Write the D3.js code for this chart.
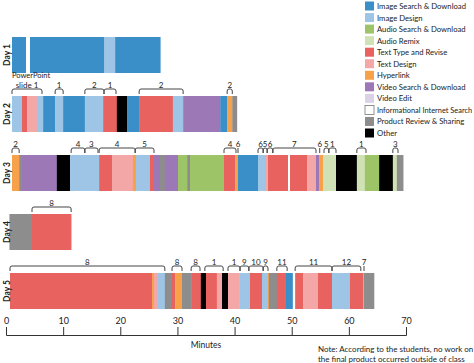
<!DOCTYPE html>
<meta charset="utf-8">
<style>
    body { margin: 0; background: #fff; }
    svg text { font-family: Lato, "Open Sans", sans-serif; fill: #222; }
    .legend text { font-size: 7.7px; }
    .brk path { fill: none; stroke: #444; stroke-width: 1; }
    .brk text { font-size: 8px; text-anchor: middle; }
    .day-label { font-size: 8.5px; font-weight: bold; text-anchor: middle; }
    .axis text { font-size: 9px; font-family: Lato, sans-serif; }
    .axis path, .axis line { stroke: #333; }
</style>
<svg width="474" height="363"></svg>
<script src="https://d3js.org/d3.v7.min.js"></script>
<script>
    var days = ["Day 1", "Day 2", "Day 3", "Day 4", "Day 5"];

    var catKeys = ["isd", "id", "asd", "ar", "ttr", "td", "hl", "vsd", "ve", "iis", "prs", "oth"];
    var catNames = ["Image Search & Download", "Image Design", "Audio Search & Download", "Audio Remix",
        "Text Type and Revise", "Text Design", "Hyperlink", "Video Search & Download", "Video Edit",
        "Informational Internet Search", "Product Review & Sharing", "Other"];
    var catColors = ["#3a8fc8", "#9fc5e6", "#9dc466", "#cfe1b5", "#e8625f", "#f3a8a7", "#f8a14b",
        "#9c78b6", "#dcd2e8", "#ffffff", "#8d8d8d", "#000000"];

    // minutes at which each day starts, then the end minute of each segment
    var dayStart = [1.05, 1.05, 1.05, 0.6, 0.7];

    var day1Ends = [3.5, 4.2, 17.2, 19.1, 27.0];
    var day1Cats = ["isd", "iis", "isd", "id", "isd"];

    var day2Ends = [2.8, 3.7, 5.4, 6.5, 8.6, 10.0, 13.8, 17.0, 19.4, 21.2, 23.3, 29.2, 31.0, 37.5, 38.7, 39.6, 40.4];
    var day2Cats = ["id", "ttr", "td", "id", "isd", "id", "isd", "id", "ttr", "oth", "isd", "ttr", "id", "vsd", "isd", "hl", "prs"];

    var day3Ends = [2.3, 2.8, 8.9, 11.2, 16.3, 18.55, 22.2, 22.75, 25.2, 25.9, 26.95, 27.8, 30.1, 31.7, 32.2, 38.15,
        40.1, 40.6, 44.1, 45.5, 45.85, 49.35, 49.7, 52.7, 54.25, 54.8, 55.5, 57.75, 61.4, 62.8, 65.3, 67.7, 68.4, 69.5];
    var day3Cats = ["hl", "prs", "vsd", "oth", "id", "ttr", "td", "hl", "id", "ttr", "vsd", "prs", "vsd", "asd", "prs", "asd",
        "ttr", "hl", "isd", "id", "td", "ttr", "iis", "ttr", "td", "vsd", "hl", "ar", "oth", "ar", "asd", "oth", "ar", "prs"];

    var day4Ends = [4.55, 11.4];
    var day4Cats = ["prs", "ttr"];

    var day5Ends = [25.55, 25.9, 26.6, 27.8, 29.05, 29.6, 30.8, 32.4, 34.1, 35.0, 36.9, 37.8, 38.85, 40.8, 42.7, 44.8,
        45.85, 46.0, 47.4, 49.0, 50.2, 50.6, 52.0, 54.6, 57.05, 60.2, 62.5, 62.65, 64.4];
    var day5Cats = ["ttr", "hl", "td", "id", "prs", "ttr", "hl", "prs", "ttr", "oth", "ttr", "td", "oth", "td", "id", "ttr",
        "id", "hl", "prs", "ttr", "isd", "iis", "ttr", "td", "ttr", "id", "ttr", "hl", "prs"];

    // brackets: [label, start min, end min]
    var day1Brackets = [];
    var day2Brackets = [["slide 1", 1.05, 6.3], ["1", 8.6, 10.0], ["2", 13.8, 17.15], ["1", 17.15, 19.25],
        ["2", 23.3, 31.0], ["2", 38.7, 39.6]];
    var day3Brackets = [["2", 1.05, 2.3], ["4", 11.4, 13.8], ["3", 13.8, 16.1], ["4", 16.3, 22.6], ["5", 22.6, 25.9],
        ["4", 38.15, 40.25], ["6", 40.6, 40.6], ["6", 44.1, 45.0], ["5", 45.0, 45.7], ["6", 45.7, 46.7],
        ["7", 46.7, 54.25], ["6", 54.9, 54.9], ["5", 55.65, 56.5], ["1", 56.5, 57.75], ["1", 61.4, 63.0], ["3", 67.7, 68.6]];
    var day4Brackets = [["8", 4.55, 11.4]];
    var day5Brackets = [["8", 0.7, 27.8], ["8", 29.05, 30.8], ["8", 32.4, 33.95], ["1", 34.8, 38.0], ["1", 38.85, 40.95],
        ["9", 40.95, 42.5], ["10", 42.5, 45.0], ["9", 45.0, 45.85], ["11", 47.4, 49.2], ["11", 50.6, 57.05],
        ["12", 57.05, 62.1], ["7", 62.65, 62.65]];

    var xTicks = [0, 10, 20, 30, 40, 50, 60, 70];

    var allEnds = [day1Ends, day2Ends, day3Ends, day4Ends, day5Ends];
    var allCats = [day1Cats, day2Cats, day3Cats, day4Cats, day5Cats];
    var allBrackets = [day1Brackets, day2Brackets, day3Brackets, day4Brackets, day5Brackets];

    var svg = d3.select("svg");
    var x = d3.scaleLinear().domain([0, 70]).range([6, 406]);
    var y = d3.scaleBand().domain(days).range([37, 309]).paddingInner(0.39);
    var color = d3.scaleOrdinal().domain(catKeys).range(catColors);

    days.forEach(function (day, i) {
        var segs = allEnds[i].map(function (e, j) {
            return { start: j ? allEnds[i][j - 1] : dayStart[i], end: e, cat: allCats[i][j] };
        });
        var g = svg.append("g").attr("class", "day");
        g.selectAll("rect").data(segs).enter().append("rect")
            .attr("x", function (d) { return x(d.start); })
            .attr("width", function (d) { return x(d.end) - x(d.start) + 0.3; })
            .attr("y", y(day))
            .attr("height", y.bandwidth())
            .attr("fill", function (d) { return color(d.cat); });

        g.append("text").attr("class", "day-label")
            .attr("transform", "translate(10," + (y(day) + y.bandwidth() / 2) + ") rotate(-90)")
            .text(day);

        var top = y(day);
        var b = g.selectAll(".brk").data(allBrackets[i]).enter().append("g").attr("class", "brk");
        b.append("path").attr("d", function (d) {
            var x0 = x(d[1]), x1 = x(d[2]), yt = top - 7, yb = top - 2;
            if (x1 - x0 < 2) return "M" + x0 + "," + yt + "V" + yb;
            return "M" + x0 + "," + yb + "V" + (yt + 2) + "Q" + x0 + "," + yt + " " + (x0 + 2) + "," + yt +
                "H" + (x1 - 2) + "Q" + x1 + "," + yt + " " + x1 + "," + (yt + 2) + "V" + yb;
        });
        b.append("text")
            .attr("x", function (d) { return (x(d[1]) + x(d[2])) / 2; })
            .attr("y", top - 8.2)
            .text(function (d) { return d[0]; });
    });

    svg.append("text").attr("x", x(dayStart[1])).attr("y", y("Day 2") - 18.2)
        .style("font-size", "7.5px").text("PowerPoint");

    var axis = svg.append("g").attr("class", "axis")
        .attr("transform", "translate(0,335)")
        .call(d3.axisTop(x).tickValues(xTicks).tickSize(8).tickPadding(3));

    svg.append("text").attr("x", x(35)).attr("y", 348).attr("text-anchor", "middle")
        .style("font-size", "8.5px").text("Minutes");
    svg.append("text").attr("x", 318).attr("y", 352).style("font-size", "8px")
        .text("Note: According to the students, no work on");
    svg.append("text").attr("x", 318).attr("y", 362).style("font-size", "8px")
        .text("the final product occurred outside of class");

    var ly = d3.scalePoint().domain(catKeys).range([6, 133]);
    var leg = svg.append("g").attr("class", "legend").selectAll("g").data(catKeys).enter().append("g")
        .attr("transform", function (k) { return "translate(365," + ly(k) + ")"; });
    leg.append("rect").attr("x", 0).attr("y", -4.5).attr("width", 9).attr("height", 9)
        .attr("fill", function (k) { return color(k); })
        .attr("stroke", function (k) { return k === "iis" ? "#777" : "none"; })
        .attr("stroke-width", 0.8);
    leg.append("text").attr("x", 12).attr("y", 3)
        .text(function (k) { return catNames[catKeys.indexOf(k)]; })
        .each(function () {
            // shrink the longest label so it stays inside the frame
            var room = 474 - 365 - 12 - 2;
            var len = this.getComputedTextLength();
            if (len > room) {
                d3.select(this).style("font-size", (7.7 * room / len).toFixed(2) + "px");
            }
        });
</script>
